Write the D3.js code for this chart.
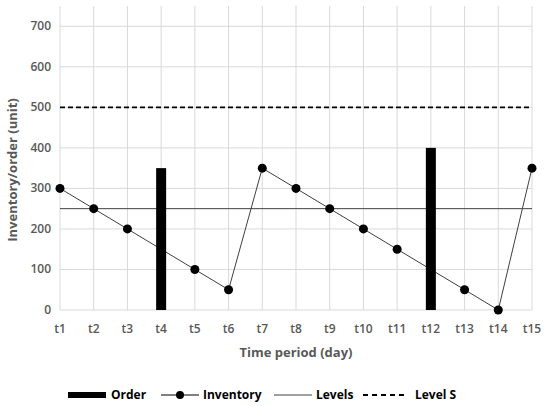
<!DOCTYPE html>
<html>
<head>
<meta charset="utf-8">
<script src="https://cdn.jsdelivr.net/npm/d3@7"></script>
<style>
  body { margin: 0; background: #fff; }
  text { font-family: "Open Sans", "Noto Sans", sans-serif; }
</style>
</head>
<body>
<script>
// chart data
var periods = ["t1", "t2", "t3", "t4", "t5", "t6", "t7", "t8", "t9", "t10", "t11", "t12", "t13", "t14", "t15"];
var inventory = [300, 250, 200, 150, 100, 50, 350, 300, 250, 200, 150, 100, 50, 0, 350];
var orders = [0, 0, 0, 350, 0, 0, 0, 0, 0, 0, 0, 400, 0, 0, 0];
var levelSmall = 250;
var levelBig = 500;
var yTicks = [0, 100, 200, 300, 400, 500, 600, 700];

var width = 550, height = 406;
var plotLeft = 60, plotRight = 532, plotTop = 6, plotBottom = 310;

var svg = d3.select("body").append("svg")
    .attr("width", width)
    .attr("height", height);

var x = d3.scalePoint().domain(periods).range([plotLeft, plotRight]);
var y = d3.scaleLinear().domain([0, 750]).range([plotBottom, plotTop]);

// grid
svg.append("g").selectAll("line")
    .data(yTicks)
    .enter().append("line")
    .attr("x1", plotLeft).attr("x2", plotRight)
    .attr("y1", d => y(d)).attr("y2", d => y(d))
    .attr("stroke", "#d9d9d9").attr("stroke-width", 1);

svg.append("g").selectAll("line")
    .data(periods)
    .enter().append("line")
    .attr("x1", d => x(d)).attr("x2", d => x(d))
    .attr("y1", y(0)).attr("y2", y(750))
    .attr("stroke", "#d9d9d9").attr("stroke-width", 1);

// y tick labels
svg.append("g").selectAll("text")
    .data(yTicks)
    .enter().append("text")
    .attr("x", 51).attr("y", d => y(d) + 4)
    .attr("text-anchor", "end")
    .attr("font-size", 12).attr("font-weight", 600)
    .attr("fill", "#595959")
    .text(d => d);

// x tick labels
svg.append("g").selectAll("text")
    .data(periods)
    .enter().append("text")
    .attr("x", d => x(d)).attr("y", 333)
    .attr("text-anchor", "middle")
    .attr("font-size", 12).attr("font-weight", 600)
    .attr("fill", "#595959")
    .text(d => d);

// axis titles
svg.append("text")
    .attr("x", (plotLeft + plotRight) / 2).attr("y", 357)
    .attr("text-anchor", "middle")
    .attr("font-size", 13).attr("font-weight", "bold")
    .attr("fill", "#595959")
    .text("Time period (day)");

svg.append("text")
    .attr("transform", "translate(17," + ((plotTop + plotBottom) / 2 + 12) + ") rotate(-90)")
    .attr("text-anchor", "middle")
    .attr("font-size", 13).attr("font-weight", "bold")
    .attr("fill", "#595959")
    .text("Inventory/order (unit)");

// level lines
svg.append("line")
    .attr("x1", plotLeft).attr("x2", plotRight)
    .attr("y1", y(levelSmall)).attr("y2", y(levelSmall))
    .attr("stroke", "#404040").attr("stroke-width", 1);

svg.append("line")
    .attr("x1", plotLeft).attr("x2", plotRight)
    .attr("y1", y(levelBig)).attr("y2", y(levelBig))
    .attr("stroke", "#000").attr("stroke-width", 1.8)
    .attr("stroke-dasharray", "5,3");

// inventory line + markers
var line = d3.line()
    .x((d, i) => x(periods[i]))
    .y(d => y(d));

svg.append("path")
    .datum(inventory)
    .attr("d", line)
    .attr("fill", "none")
    .attr("stroke", "#404040").attr("stroke-width", 1);

svg.append("g").selectAll("circle")
    .data(inventory)
    .enter().append("circle")
    .attr("cx", (d, i) => x(periods[i]))
    .attr("cy", d => y(d))
    .attr("r", 4.5)
    .attr("fill", "#000");

// order bars
var barW = 10;
svg.append("g").selectAll("rect")
    .data(orders.map((v, i) => ({ p: periods[i], v: v })).filter(d => d.v > 0))
    .enter().append("rect")
    .attr("x", d => x(d.p) - barW / 2)
    .attr("y", d => y(d.v))
    .attr("width", barW)
    .attr("height", d => y(0) - y(d.v))
    .attr("fill", "#000");

// legend
var lg = svg.append("g").attr("font-size", 12).attr("font-weight", "bold").attr("fill", "#000");
var ly = 395;

lg.append("rect").attr("x", 68).attr("y", ly - 3).attr("width", 38).attr("height", 6).attr("fill", "#000");
lg.append("text").attr("x", 111).attr("y", ly + 4).text("Order");

lg.append("line").attr("x1", 161).attr("x2", 199).attr("y1", ly).attr("y2", ly)
    .attr("stroke", "#000").attr("stroke-width", 1);
lg.append("circle").attr("cx", 180).attr("cy", ly).attr("r", 4).attr("fill", "#000");
lg.append("text").attr("x", 203).attr("y", ly + 4).text("Inventory");

lg.append("line").attr("x1", 274).attr("x2", 312).attr("y1", ly).attr("y2", ly)
    .attr("stroke", "#404040").attr("stroke-width", 1);
lg.append("text").attr("x", 316).attr("y", ly + 4).text("Levels");

lg.append("line").attr("x1", 363).attr("x2", 408).attr("y1", ly).attr("y2", ly)
    .attr("stroke", "#000").attr("stroke-width", 1.8)
    .attr("stroke-dasharray", "5,4");
lg.append("text").attr("x", 415).attr("y", ly + 4).text("Level S");
</script>
</body>
</html>
